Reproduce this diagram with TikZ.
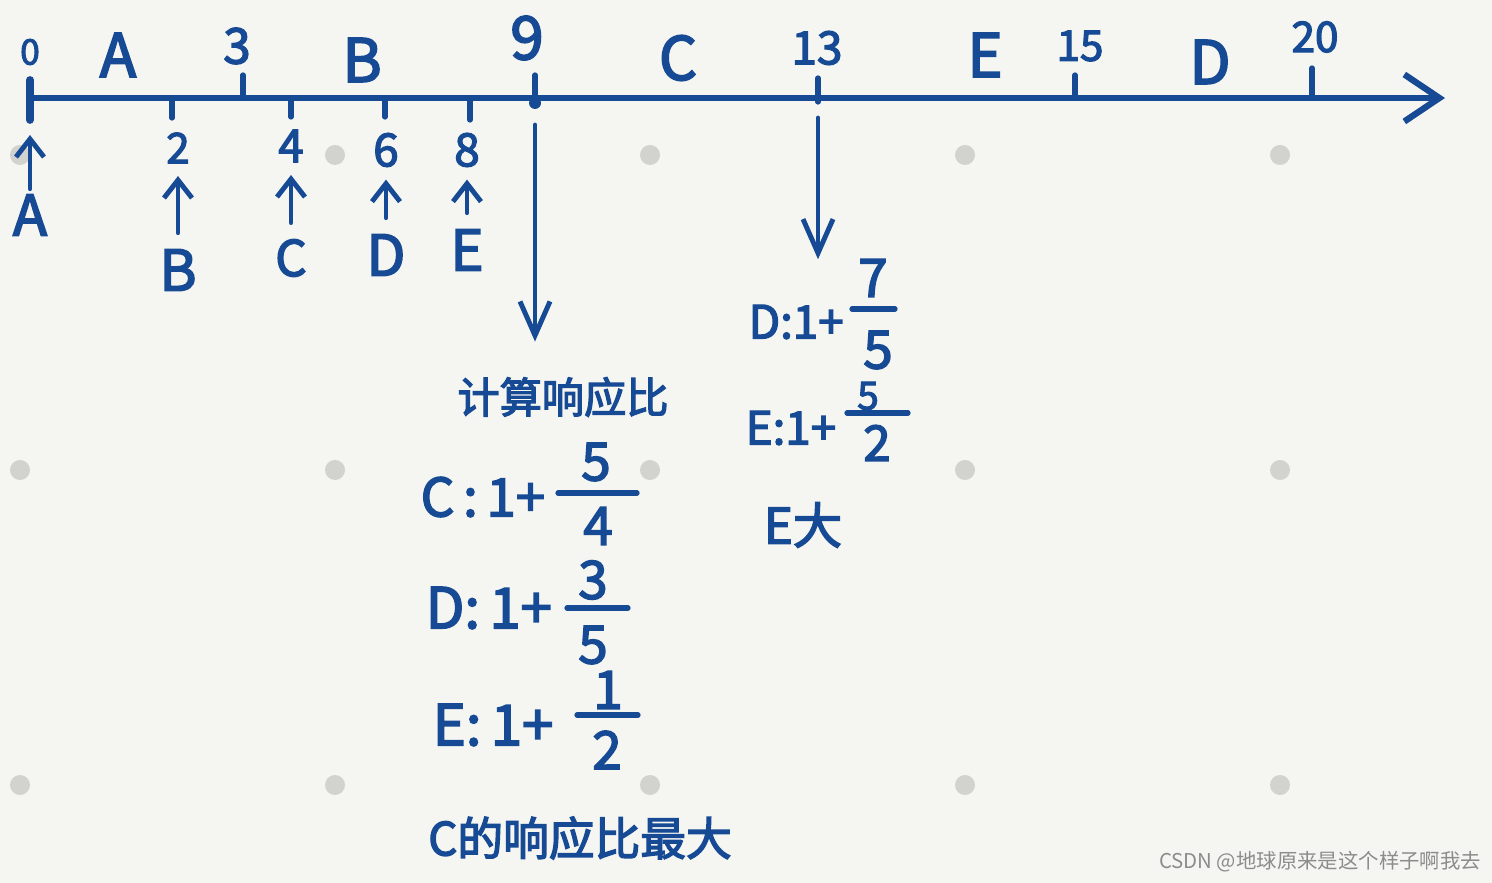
\documentclass[tikz,border=0pt]{standalone}
\usepackage{fontspec}
\setmainfont{Noto Sans CJK SC}[FakeBold=3]
\newfontfamily\markfont{Noto Sans CJK SC}
\usetikzlibrary{arrows.meta}
\definecolor{ink}{RGB}{22,74,148}
\definecolor{paper}{RGB}{245,246,241}
\definecolor{pindot}{RGB}{210,210,207}
\tikzset{
  hand/.style={text=ink, inner sep=0pt},
  seglbl/.style={hand, font=\fontsize{17}{17}\selectfont},
  joblbl/.style={hand, font=\fontsize{16}{16}\selectfont},
  timelbl/.style={hand, font=\fontsize{13}{13}\selectfont},
  formula/.style={hand, anchor=west, font=\fontsize{16}{16}\selectfont},
  fracdig/.style={hand, font=\fontsize{15}{15}\selectfont},
  note/.style={hand, font=\fontsize{12}{12}\selectfont},
  tick/.style={ink, line width=1.5pt},
  bar/.style={ink, line width=1.5pt},
  uparrow/.style={ink, line width=1.4pt, ->, >={Straight Barb[length=1.8mm,width=2.8mm]},
    shorten <=1.6mm, shorten >=1.2mm},
  downarrow/.style={ink, line width=1.4pt, ->, >={Straight Barb[length=3.4mm,width=3mm]}}
}

\begin{document}
\begin{tikzpicture}[x=0.01cm, y=-0.01cm, line cap=round]
	\fill[paper] (0,0) rectangle (1492,883);
	\useasboundingbox (0,0) rectangle (1492,883);
	% pins of the notebook page
	\foreach \px in {20,335,650,965,1280}
	  \foreach \py in {155,470,785}
	    \fill[fill=pindot] (\px,\py) circle (1mm);

	% time axis
	\coordinate (t0) at (30,98);
	\coordinate (t2) at (172,98);
	\coordinate (t3) at (243,98);
	\coordinate (t4) at (291,98);
	\coordinate (t6) at (385,98);
	\coordinate (t8) at (470,98);
	\coordinate (t9) at (535,98);
	\coordinate (t13) at (818,98);
	\coordinate (t15) at (1075,98);
	\coordinate (t20) at (1312,98);
	\coordinate (tend) at (1445,98);
	\draw[ink, line width=1.8pt, ->, >={Straight Barb[length=3.5mm,width=4.7mm]}] (t0) -- (tend);
	\draw[tick, line width=2.2pt] (t0) ++(0,-18) -- ++(0,40);
	\draw[tick] (t2) -- ++(0,20);
	\draw[tick] (t3) -- ++(0,-23);
	\draw[tick] (t4) -- ++(0,19);
	\draw[tick] (t6) -- ++(0,19);
	\draw[tick] (t8) -- ++(0,22);
	\draw[tick] (t9) ++(0,-23) -- ++(0,30);
	\fill[ink] (t9) ++(0,5) circle (0.6mm);
	\draw[tick] (t13) ++(0,-20) -- ++(0,24);
	\draw[tick] (t15) -- ++(0,-23);
	\draw[tick] (t20) -- ++(0,-30);

	% finish times above the axis
	\node[hand, font=\fontsize{10}{10}\selectfont] (n0) at (30,52) {0};
	\node[timelbl, font=\fontsize{14}{14}\selectfont] (n3) at (237,46) {3};
	\node[timelbl, font=\fontsize{17}{17}\selectfont] (n9) at (527,38) {9};
	\node[timelbl] (n13) at (817,48) {13};
	\node[timelbl, font=\fontsize{12}{12}\selectfont] (n15) at (1080,46) {15};
	\node[timelbl, font=\fontsize{12}{12}\selectfont] (n20) at (1315,37) {20};
	% running job in each slot
	\node[seglbl] (sA) at (118,55) {A};
	\node[seglbl] (sB) at (362,60) {B};
	\node[seglbl] (sC) at (678,58) {C};
	\node[seglbl] (sE) at (985,55) {E};
	\node[seglbl] (sD) at (1210,62) {D};

	% arrival times below the axis
	\node[timelbl, font=\fontsize{12}{12}\selectfont] (n2) at (178,148) {2};
	\node[timelbl] (n4) at (291,146) {4};
	\node[timelbl] (n6) at (386,150) {6};
	\node[timelbl] (n8) at (467,150) {8};
	\node[joblbl] (bA) at (30,215) {A};
	\node[joblbl] (bB) at (178,270) {B};
	\node[joblbl, font=\fontsize{14}{14}\selectfont] (bC) at (291,258) {C};
	\node[joblbl] (bD) at (386,255) {D};
	\node[joblbl] (bE) at (467,250) {E};
	\draw[uparrow, shorten <=0.5mm, shorten >=3.7mm] (bA.north) -- (t0);
	\draw[uparrow] (bB) -- (n2);
	\draw[uparrow] (bC) -- (n4);
	\draw[uparrow] (bD) -- (n6);
	\draw[uparrow] (bE) -- (n8);

	% response ratios at time 9
	\node[note] (calc) at (563,397) {计算响应比};
	\draw[downarrow, shorten <=2.7mm, shorten >=3.5mm] (t9) -- (t9 |- calc.north);
	\node[formula, font=\fontsize{15}{15}\selectfont] (rc) at (420,497) {C\,:\,1+};
	\node[fracdig] (rcn) at (596,462) {5};
	\node[fracdig] (rcd) at (598,526) {4};
	\draw[bar] (558,493) -- (637,493);
	\node[formula] (rd) at (425,608) {D:\,1+};
	\node[fracdig] (rdn) at (593,580) {3};
	\node[fracdig] (rdd) at (593,645) {5};
	\draw[bar] (567,608) -- (628,608);
	\node[formula] (re) at (432,725) {E:\,1+};
	\node[fracdig] (ren) at (608,690) {1};
	\node[fracdig] (red) at (607,750) {2};
	\draw[bar] (577,715) -- (638,715);
	\node[note, font=\fontsize{13}{13}\selectfont] (res9) at (580,838) {C的响应比最大};

	% response ratios at time 13
	\node[formula, font=\fontsize{13}{13}\selectfont] (rd13) at (748,322) {D:1+};
	\draw[downarrow, shorten <=2mm, shorten >=4.5mm] (t13) -- (t13 |- rd13.north);
	\node[fracdig] (rd13n) at (873,278) {7};
	\node[fracdig] (rd13d) at (878,350) {5};
	\draw[bar] (852,309) -- (895,309);
	\node[formula, font=\fontsize{13}{13}\selectfont] (re13) at (745,428) {E:1+};
	\node[fracdig, font=\fontsize{11}{11}\selectfont] (re13n) at (868,396) {5};
	\node[fracdig, font=\fontsize{14}{14}\selectfont] (re13d) at (877,443) {2};
	\draw[bar] (847,413) -- (908,413);
	\node[note, font=\fontsize{14}{14}\selectfont] (res13) at (803,525) {E大};

	% watermark
	\node[inner sep=0pt, text={rgb,255:red,140;green,140;blue,140}, font=\markfont\fontsize{5.8}{5.8}\selectfont] (mark) at (1320,862) {CSDN @地球原来是这个样子啊我去};
\end{tikzpicture}
\end{document}
